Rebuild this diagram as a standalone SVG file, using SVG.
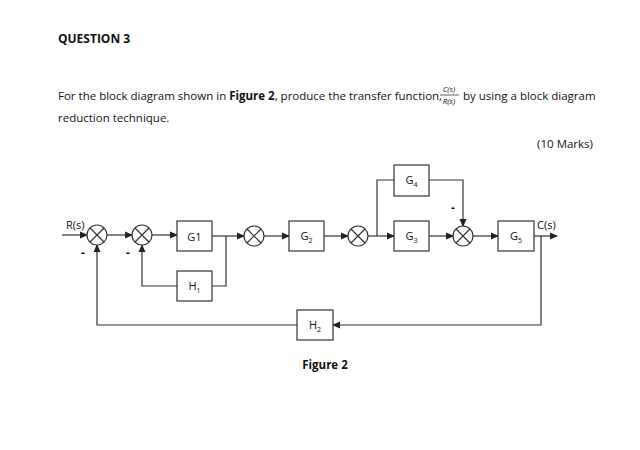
<svg xmlns="http://www.w3.org/2000/svg" width="640" height="450" viewBox="0 0 640 450">
<defs><marker id="a" markerWidth="8" markerHeight="8" refX="7" refY="4" orient="auto" markerUnits="userSpaceOnUse"><path d="M0,0.5 L8,4 L0,7.5 Z" fill="#222"/></marker></defs>
<style>
text{font-family:"Open Sans","Liberation Sans",sans-serif;fill:#111}
.b{fill:#fff;stroke:#333;stroke-width:1.2}
.s{fill:#fff;stroke:#333;stroke-width:1.2}
.l{fill:none;stroke:#333;stroke-width:1.2}
.t{font-size:11px}
.bl{font-size:11px;text-anchor:middle}
</style>
<rect width="640" height="450" fill="#fff"/>
<text x="58" y="43" font-size="12" font-weight="bold">QUESTION 3</text>
<text x="58" y="100" font-size="11.5">For the block diagram shown in <tspan font-weight="bold">Figure 2</tspan>, produce the transfer function,</text>
<text x="449" y="92" font-size="8" font-style="italic" text-anchor="middle" font-family="Liberation Serif,serif">C(s)</text>
<line x1="440" y1="95" x2="459" y2="95" stroke="#333" stroke-width="0.8"/>
<text x="449" y="104" font-size="8" font-style="italic" text-anchor="middle" font-family="Liberation Serif,serif">R(s)</text>
<text x="463" y="100" font-size="11.5">by using a block diagram</text>
<text x="58" y="122" font-size="11.5">reduction technique.</text>
<text x="593" y="148" font-size="11.5" text-anchor="end">(10 Marks)</text>
<g id="connectors">
<path class="l" d="M62,235 H87" marker-end="url(#a)"/>
<path class="l" d="M107,235 H132" marker-end="url(#a)"/>
<path class="l" d="M152,235 H177" marker-end="url(#a)"/>
<path class="l" d="M212,236 H244" marker-end="url(#a)"/>
<path class="l" d="M226,236 V286 H212"/>
<path class="l" d="M177,286 H142 V245" marker-end="url(#a)"/>
<path class="l" d="M264,236 H289" marker-end="url(#a)"/>
<path class="l" d="M324,236 H348" marker-end="url(#a)"/>
<path class="l" d="M368,236 H394" marker-end="url(#a)"/>
<path class="l" d="M377,236 V180 H394"/>
<path class="l" d="M429,180 H463 V226" marker-end="url(#a)"/>
<path class="l" d="M429,236 H453" marker-end="url(#a)"/>
<path class="l" d="M473,236 H498" marker-end="url(#a)"/>
<path class="l" d="M534,236 H557" marker-end="url(#a)"/>
<path class="l" d="M541,236 V325 H333" marker-end="url(#a)"/>
<path class="l" d="M297,325 H97 V245" marker-end="url(#a)"/>
</g>
<text x="66" y="229" class="t">R(s)</text>
<text x="537" y="229" class="t">C(s)</text>
<text x="81" y="257" font-size="12" font-weight="bold">-</text>
<text x="126" y="257" font-size="12" font-weight="bold">-</text>
<text x="451" y="212" font-size="12" font-weight="bold">-</text>
<g id="sum1"><circle class="s" cx="97" cy="235" r="10"/><path class="l" d="M90,228 L104,242 M104,228 L90,242"/></g>
<g id="sum2"><circle class="s" cx="142" cy="235" r="10"/><path class="l" d="M135,228 L149,242 M149,228 L135,242"/></g>
<g id="sum3"><circle class="s" cx="254" cy="236" r="10"/><path class="l" d="M247,229 L261,243 M261,229 L247,243"/></g>
<g id="sum4"><circle class="s" cx="358" cy="236" r="10"/><path class="l" d="M351,229 L365,243 M365,229 L351,243"/></g>
<g id="sum5"><circle class="s" cx="463" cy="236" r="10"/><path class="l" d="M456,229 L470,243 M470,229 L456,243"/></g>
<g id="G1"><rect class="b" x="177" y="221" width="35" height="30"/><text x="194.5" y="241" class="bl" font-family="Liberation Serif,serif" font-size="12">G1</text></g>
<g id="H1"><rect class="b" x="177" y="271" width="35" height="30"/><text x="194.5" y="290" class="bl">H<tspan font-size="7" dy="3">1</tspan></text></g>
<g id="G2"><rect class="b" x="289" y="221" width="35" height="30"/><text x="306.5" y="240" class="bl">G<tspan font-size="7" dy="3">2</tspan></text></g>
<g id="G3"><rect class="b" x="394" y="221" width="35" height="30"/><text x="411.5" y="240" class="bl">G<tspan font-size="7" dy="3">3</tspan></text></g>
<g id="G4"><rect class="b" x="394" y="165" width="35" height="31"/><text x="411.5" y="184" class="bl">G<tspan font-size="7" dy="3">4</tspan></text></g>
<g id="G5"><rect class="b" x="498" y="221" width="36" height="30"/><text x="516" y="240" class="bl">G<tspan font-size="7" dy="3">5</tspan></text></g>
<g id="H2"><rect class="b" x="297" y="310" width="36" height="30"/><text x="315" y="329" class="bl">H<tspan font-size="7" dy="3">2</tspan></text></g>
<text x="325" y="369" font-size="11.5" font-weight="bold" text-anchor="middle">Figure 2</text>
</svg>
